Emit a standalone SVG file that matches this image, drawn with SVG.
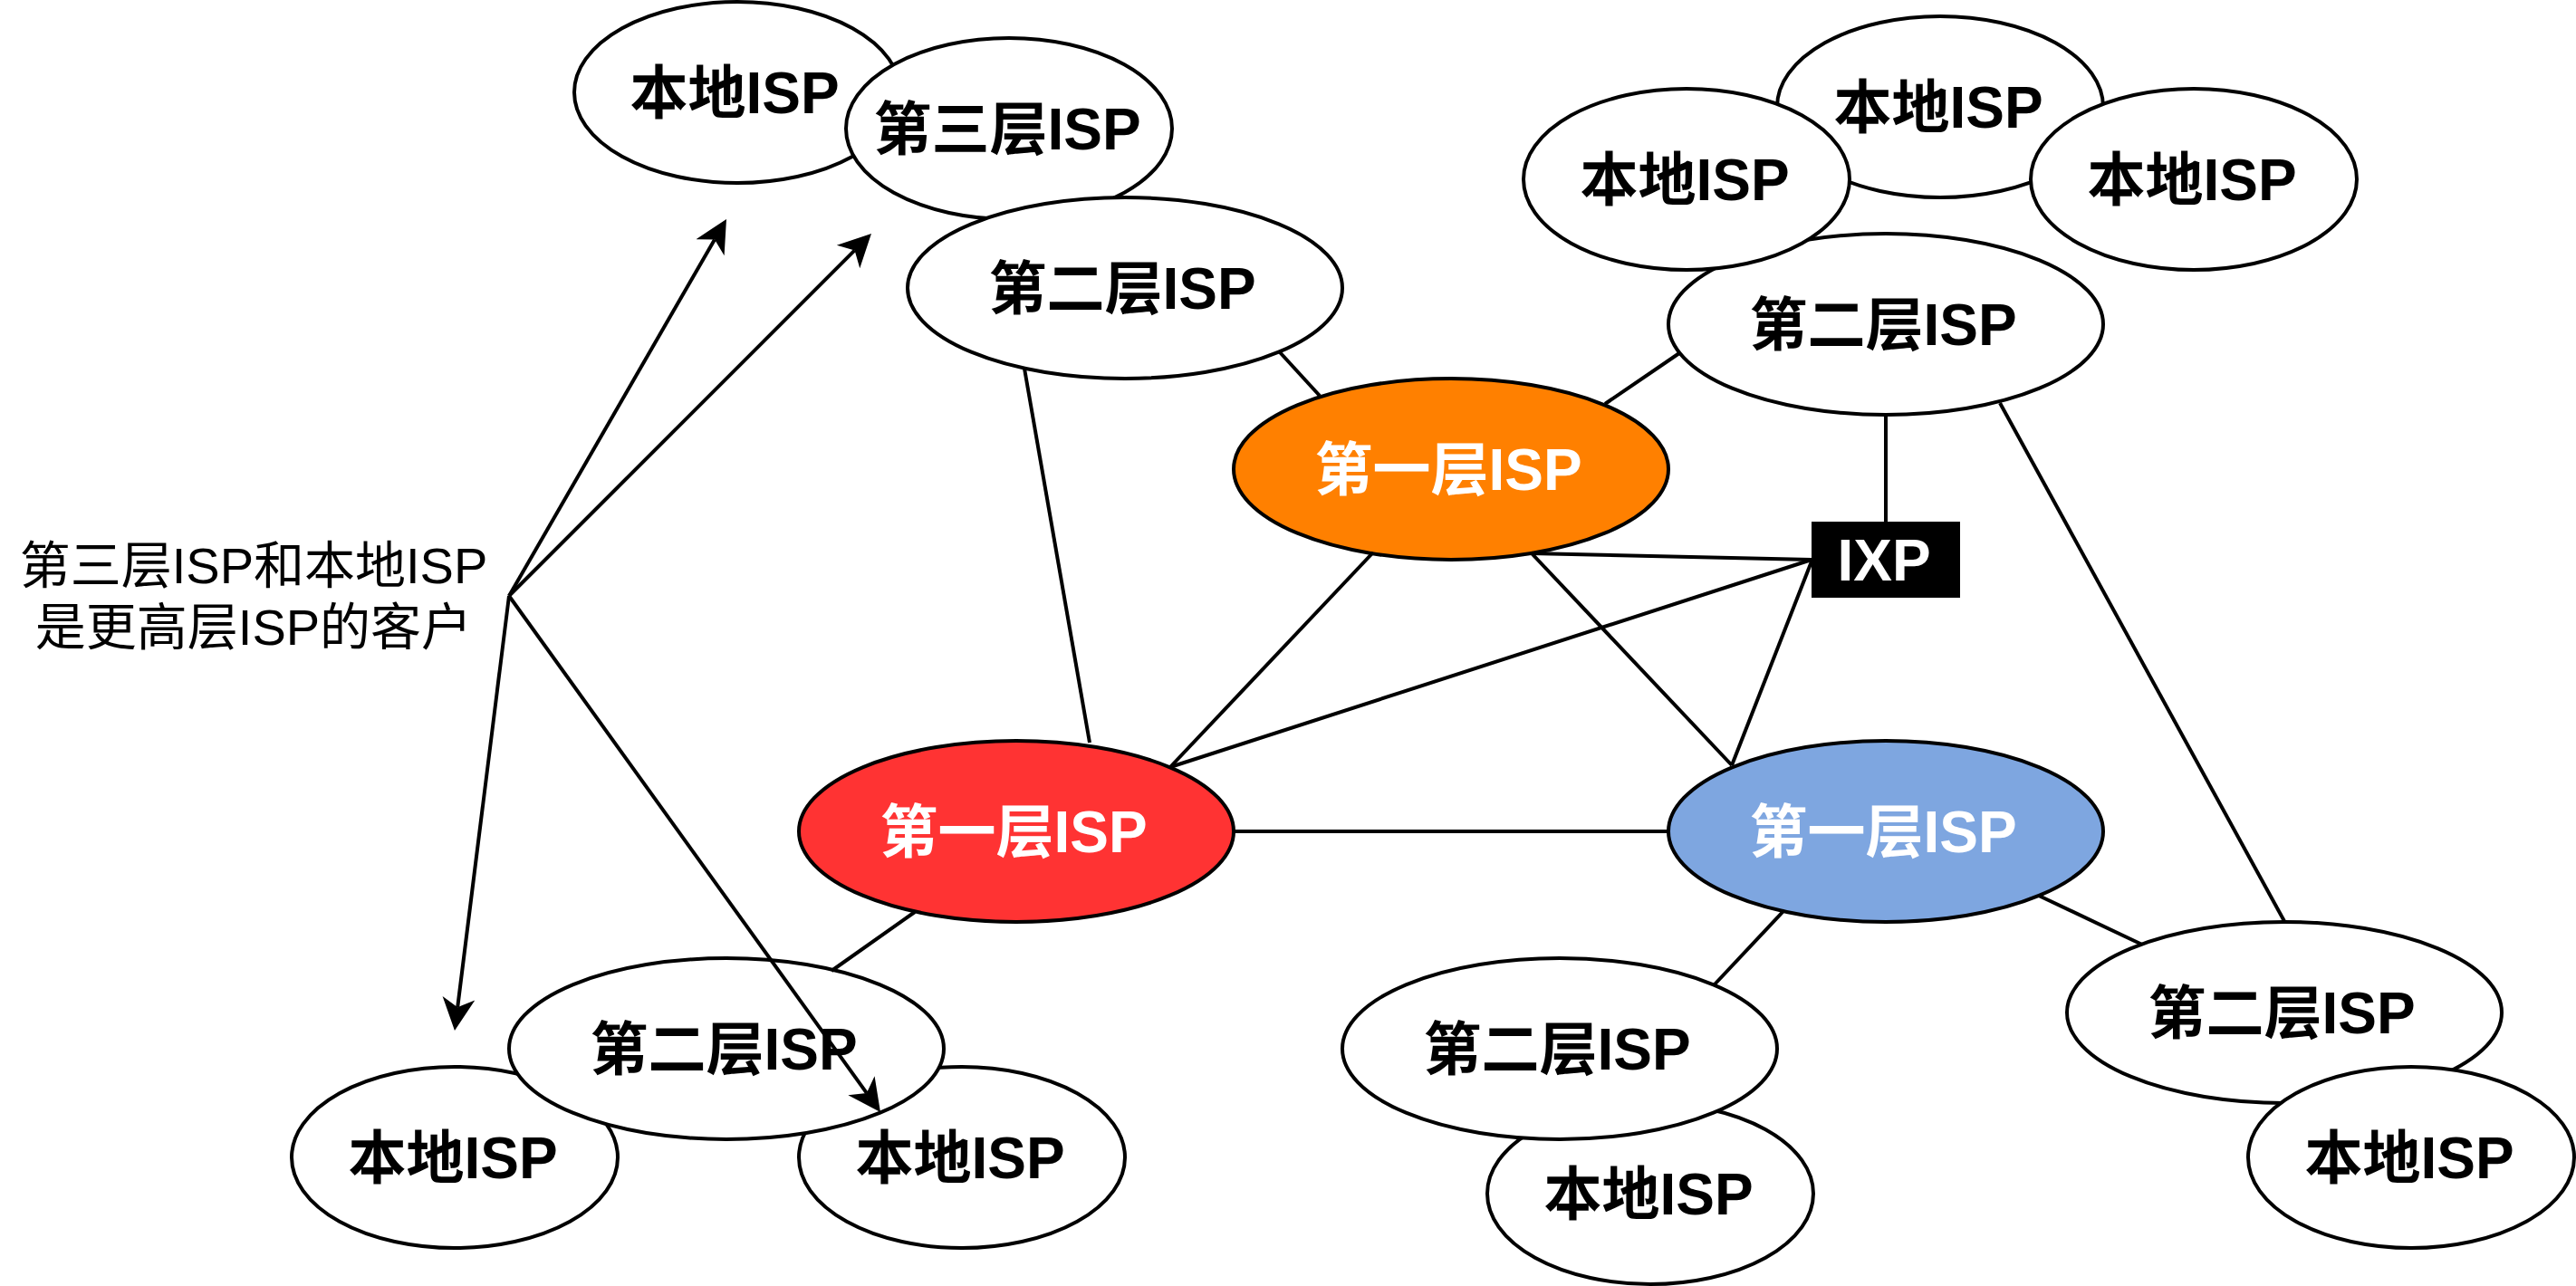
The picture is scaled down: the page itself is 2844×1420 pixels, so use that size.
<svg xmlns="http://www.w3.org/2000/svg" width="2844" height="1420" viewBox="0 0 2844 1420">
<style>
.n{fill:#fff;stroke:#000;stroke-width:4}
.t{font-family:"Liberation Sans","Noto Sans CJK SC",sans-serif;font-weight:700;font-size:64px;text-anchor:middle;fill:#000}
.w{fill:#fff}
.c{fill:none;stroke:#000;stroke-width:4}
.a{marker-end:url(#arr)}
.note{font-family:"Liberation Sans","Noto Sans CJK SC",sans-serif;font-size:56px;text-anchor:middle;fill:#000}
</style>
<defs><marker id="arr" markerUnits="userSpaceOnUse" markerWidth="40" markerHeight="40" refX="10" refY="20" orient="auto"><path d="M36,20 L0,2 L10,20 L0,38 Z" fill="#000"/></marker></defs>
<rect width="2844" height="1420" fill="#fff"/>
<g id="local1"><ellipse class="n" cx="814" cy="102" rx="180" ry="100"/><text class="t" x="811" y="125">本地ISP</text></g>
<g id="tier3"><ellipse class="n" cx="1114" cy="142" rx="180" ry="100"/><text class="t" x="1112" y="165">第三层ISP</text></g>
<g id="tier2a"><ellipse class="n" cx="1242" cy="318" rx="240" ry="100"/><text class="t" x="1239" y="341">第二层ISP</text></g>
<g id="local3"><ellipse class="n" cx="2142" cy="118" rx="180" ry="100"/><text class="t" x="2140" y="141">本地ISP</text></g>
<g id="tier2b"><ellipse class="n" cx="2082" cy="358" rx="240" ry="100"/><text class="t" x="2079" y="381">第二层ISP</text></g>
<g id="local2"><ellipse class="n" cx="1862" cy="198" rx="180" ry="100"/><text class="t" x="1860" y="221">本地ISP</text></g>
<g id="local4"><ellipse class="n" cx="2422" cy="198" rx="180" ry="100"/><text class="t" x="2420" y="221">本地ISP</text></g>
<g id="tier1orange"><ellipse class="n" style="fill:#FF8000" cx="1602" cy="518" rx="240" ry="100"/><text class="t w" x="1599" y="541">第一层ISP</text></g>
<g id="ixp"><rect x="2000" y="576" width="164" height="84" fill="#000"/><text class="t w" x="2080" y="641">IXP</text></g>
<g id="tier1red"><ellipse class="n" style="fill:#FF3333" cx="1122" cy="918" rx="240" ry="100"/><text class="t w" x="1119" y="941">第一层ISP</text></g>
<g id="tier1blue"><ellipse class="n" style="fill:#7EA6E0" cx="2082" cy="918" rx="240" ry="100"/><text class="t w" x="2079" y="941">第一层ISP</text></g>
<g id="local5"><ellipse class="n" cx="502" cy="1278" rx="180" ry="100"/><text class="t" x="500" y="1301">本地ISP</text></g>
<g id="local6"><ellipse class="n" cx="1062" cy="1278" rx="180" ry="100"/><text class="t" x="1060" y="1301">本地ISP</text></g>
<g id="tier2c"><ellipse class="n" cx="802" cy="1158" rx="240" ry="100"/><text class="t" x="799" y="1181">第二层ISP</text></g>
<g id="local7"><ellipse class="n" cx="1822" cy="1318" rx="180" ry="100"/><text class="t" x="1820" y="1341">本地ISP</text></g>
<g id="tier2d"><ellipse class="n" cx="1722" cy="1158" rx="240" ry="100"/><text class="t" x="1719" y="1181">第二层ISP</text></g>
<g id="tier2e"><ellipse class="n" cx="2522" cy="1118" rx="240" ry="100"/><text class="t" x="2519" y="1141">第二层ISP</text></g>
<g id="local8"><ellipse class="n" cx="2662" cy="1278" rx="180" ry="100"/><text class="t" x="2660" y="1301">本地ISP</text></g>
<g id="note"><text class="note" x="280" y="644">第三层ISP和本地ISP</text><text class="note" x="280" y="712">是更高层ISP的客户</text></g>
<g id="connectors">
<path class="c" d="M1413 389L1457 437"/>
<path class="c" d="M1131 407L1203 820"/>
<path class="c" d="M1772 446L1854 390"/>
<path class="c" d="M2082 458V576"/>
<path class="c" d="M1690 611L2000 618"/>
<path class="c" d="M1292 847L2000 618"/>
<path class="c" d="M1912 845L2000 620"/>
<path class="c" d="M1690 610L1912 845"/>
<path class="c" d="M1516 610L1292 847"/>
<path class="c" d="M1362 918H1842"/>
<path class="c" d="M1010 1007L918 1072"/>
<path class="c" d="M1970 1005L1892 1088"/>
<path class="c" d="M2251 989L2365 1043"/>
<path class="c" d="M2208 445L2523 1019"/>
<path class="c a" d="M562 658L789 264.5"/>
<path class="c a" d="M562 658L943.6 276.4"/>
<path class="c a" d="M562 658L505.2 1112.2"/>
<path class="c a" d="M562 658L956.8 1206.9"/>
</g>
</svg>
